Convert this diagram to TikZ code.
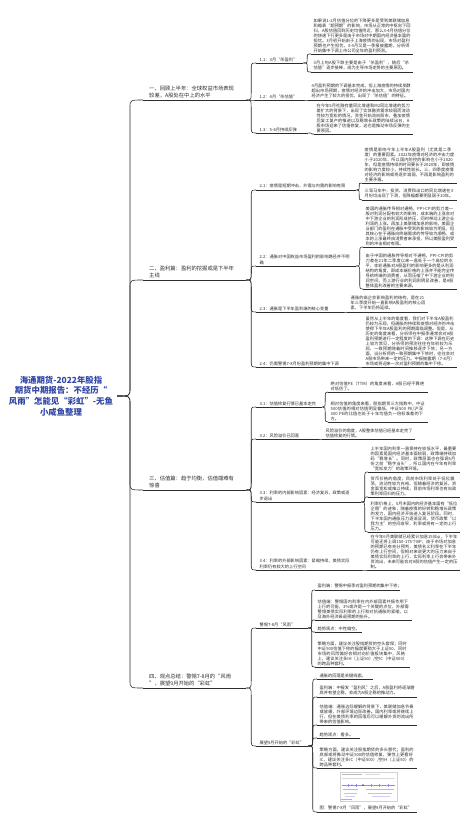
\documentclass[tikz,border=0pt]{standalone}
\usepackage{fontspec}
\setmainfont{Noto Sans CJK SC}
\XeTeXlinebreaklocale "zh"
\XeTeXlinebreakskip = 0pt plus 0.6pt
\usetikzlibrary{calc}
\definecolor{rootblue}{RGB}{50,70,165}
\definecolor{txt}{RGB}{45,45,45}
\definecolor{lnc}{RGB}{45,45,45}
\tikzset{
  x=1pt, y=-1pt,
  conn/.style={draw=lnc, line width=0.6pt},
  rootnode/.style={align=center, text=rootblue, font=\bfseries\fontsize{8.4}{10.6}\selectfont, inner sep=0pt},
  sec/.style={anchor=south west, inner xsep=6pt, inner ysep=1.6pt, align=left, text=txt, font=\fontsize{5.3}{7}\selectfont},
  sub/.style={anchor=south west, inner xsep=3.5pt, inner ysep=1.4pt, align=left, text=txt, font=\fontsize{4.2}{5.4}\selectfont},
  leaf/.style={anchor=south west, inner xsep=2.5pt, inner ysep=1.4pt, align=left, text=txt, font=\fontsize{4.2}{5}\selectfont},
}
\newcommand\cn[2]{\draw[conn] let \p1=(#1), \p2=(#2), \n1={0.5*(\x2-\x1)}, \n2={min(abs(\y2-\y1)/2,8)}, \n3={ifthenelse(\y2>\y1,1,-1)} in (\p1) .. controls (\x1+\n1,\y1) .. (\x1+\n1,\y1+\n3*\n2) -- (\x1+\n1,\y2-\n3*\n2) .. controls (\x1+\n1,\y2) .. (\p2);}
\newcommand\ul[1]{\draw[conn] (#1.south west) -- (#1.south east);}
\begin{document}
\begin{tikzpicture}
\useasboundingbox (0,0) rectangle (474,821);
\fill[white] (0,0) rectangle (474,821);

% root
\node[rootnode] (root) at (61,396) {海通期货-2022年股指\\期货中期报告：不经历“\\风雨”怎能见“彩虹”-无鱼\\小咸鱼整理};
\coordinate (r0) at (117,396);

% sections
\node[sec, text width=91pt] (s1) at (143,100) {\mbox{一、回顾上半年：全球权益市场表现}\\\mbox{较差，A股处在中上的水平}};
\node[sec, text width=91pt] (s2) at (143,280) {\mbox{二、盈利篇：盈利的挖掘或是下半年}\\\mbox{主线}};
\node[sec, text width=91pt] (s3) at (143,490) {\mbox{三、估值篇：趋于均衡，估值端难有}\\\mbox{惊喜}};
\node[sec, text width=91pt] (s4) at (143,688) {\mbox{四、观点总结：警惕7-8月的“风雨}\\\mbox{”，展望9月开始的“彩虹”}};

% level 2
\node[sub, text width=40pt] (n11) at (256,63) {\mbox{1.1：3月“杀盈利”}};
\node[sub, text width=40pt] (n12) at (256,100) {\mbox{1.2：4月“杀估值”}};
\node[sub, text width=45pt] (n13) at (256,133) {\mbox{1.3：5-6月持续反弹}};
\node[sub, text width=93pt] (n21) at (256,190) {\mbox{2.1：疫情是短期冲击，外需与内需的影响有限}};
\node[sub, text width=93pt] (n22) at (256,266) {\mbox{2.2：通胀对中国权益市场盈利的影响路径并不明}\\\mbox{确}};
\node[sub, text width=80pt] (n23) at (256,312) {\mbox{2.3：通胀是下半年盈利端的核心变量}};
\node[sub, text width=93pt] (n24) at (256,367) {\mbox{2.4：仍需警惕7-8月份盈利预期的集中下调}};
\node[sub, text width=59pt] (n31) at (256,407) {\mbox{3.1：估值修复行情已基本走完}};
\node[sub, text width=55pt] (n32) at (256,439) {\mbox{3.2：风险溢价已回落}};
\node[sub, text width=98pt] (n33) at (256,502) {\mbox{3.3：利率的内部影响因素：经济复苏，政策或逐}\\\mbox{步退出}};
\node[sub, text width=98pt] (n34) at (256,570) {\mbox{3.4：利率的外部影响因素：紧缩持续，美债实际}\\\mbox{利率仍有较大的上行空间}};
\node[sub, text width=45pt] (n41) at (256,628) {\mbox{警惕7-8月“风雨”}};
\node[sub, text width=45pt] (n42) at (256,746) {\mbox{展望9月开始的“彩虹”}};

% leaves of 1
\node[leaf, text width=97pt] (n11a) at (311,54) {如果说1-2月估值分位的下降更多是受到美联储加息和缩表“超预期”的影响，市场从正常的中枢向下回归，A股估值回到历史均值附近，那么3-4月估值分位的快速下行更多是由于市场对中期国内经济基本面的担忧。3月初开始由于上海疫情的出现，市场对盈利预期也产生担忧，3-4月又是一季报披露期，分析师开始集中下调上市公司全年的盈利预测。};
\node[leaf, text width=97pt] (n11b) at (311,72) {3月上旬A股下跌主要是由于“杀盈利”，随后“杀估值”逐步接棒，成为主导市场走势的主要原因。};
\node[leaf, text width=99pt] (n12a) at (309,100) {4月盈利预期的下调基本完成，但上海疫情的持续发酵超出市场预期，疫情对经济的冲击加大，市场对国内经济产生了较大的担忧，出现了“杀估值”的特征。};
\node[leaf, text width=94pt] (n13a) at (314,134) {在今年5月社融存量同比增速和M2同比增速的剪刀差扩大的背景下，出现了实体融资需求较弱而流动性较为宽松的情况，资金开始流向股市，叠加疫情后复工复产的推进以及稳增长政策的陆续出台，A股市场迎来了估值修复，这也是推动市场反弹的主要原因。};

% leaves of 2
\node[leaf, text width=90pt] (n21a) at (362,183) {疫情是影响今年上半年A股盈利（尤其是二季度）的重要因素。2022年疫情对经济的冲击力度小于2020年，所以国内防控的影响也小于2020年，但是疫情持续的时间要长于2020年，即疫情的影响力度较小，持续性较长。三、四季度疫情对经济的影响或将逐步减弱，不再是影响盈利的主要矛盾。};
\node[leaf, text width=90pt] (n21b) at (362,200) {三驾马车中，投资、消费和出口的同比增速在3月份均出现了下滑，但降幅都要明显弱于20年。};
\node[leaf, text width=89pt] (n22a) at (363,247) {美国的通胀传导相对通畅，PPI-CPI的剪刀差一般对利润分配有较大的影响，成本端的上涨会对中下游企业的利润形成挤压，同时带动上游企业利润的上涨。再加上美联储加息的影响，美国企业部门的盈利在通胀中受到的影响较为明显，但其核心在于通胀向终端需求的传导较为顺畅，成本的上涨最终由消费者来承担，所以美股盈利受到的冲击相对有限。};
\node[leaf, text width=89pt] (n22b) at (363,289) {由于中国的通胀传导相对不通畅，PPI-CPI的剪刀差在21年二季度以来一直处于一个高位的水平，本轮通胀对A股盈利的影响更多的是从利润结构的角度，即成本端价格的上涨并不能完全传导给终端的消费者，从而压缩了中下游企业的利润空间，而上游行业的利润则明显改善，是A股整体盈利改善的主要来源。};
\node[leaf, text width=75pt] (n23a) at (348,312) {通胀的高企会影响盈利的结构，是在21年三季度开始一直影响A股盈利的核心因素，下半年仍将延续。};
\node[leaf, text width=89pt] (n24a) at (363,367) {虽然从上半年的角度看，我们对下半年A股盈利仍较为乐观，但通胀的持续和疫情对经济的冲击使得下半年A股盈利的预期面临调整。但是，从历史的角度来看，分析师在中报季通常会对A股盈利预期进行一定程度的下调：这种下调在历史上较为常见，分析师的预测往往在年初较为乐观，一致预期随着时间推移逐步下修；另一方面，当分析师的一致预期集中下修时，往往会对A股市场带来一定的压力。中报披露期（7-8月）市场或将迎来一次对盈利预期的集中下修。};

% leaves of 3
\node[leaf, text width=95pt] (n31a) at (328,392) {绝对估值PE（TTM）的角度来看，A股已经不算绝对低估了。};
\node[leaf, text width=95pt] (n31b) at (328,422) {相对估值的角度来看，股指期货三大指数中，中证500估值的相对估值明显偏低，中证500 PE/沪深300 PE的比值也处于十年均值负一倍标准差的下方。};
\node[leaf, text width=87pt] (n32a) at (323,439) {风险溢价的角度，A股整体估值已经基本走完了估值修复的行情。};
\node[leaf, text width=87pt] (n33a) at (368,472) {上半年国内利率一直保持在较低水平，最重要的因素是国内经济基本面较弱，政策端持续加码“稳增长”。同时，政策层面也在强调5月份之前“稳字当头”，所以国内在今年有利率“宽松发力”的政策环境。};
\node[leaf, text width=87pt] (n33b) at (368,497) {货币价格的角度，目前市场利率处于低位震荡，流动性较为充裕，但随着经济的复苏，资金面宽松或难以持续，目前市场利率也有向政策利率回归的压力。};
\node[leaf, text width=87pt] (n33c) at (368,532) {利率价格上，5月末国内的经济基本面有“低位企稳”的迹象，随着疫情的好转和稳增长政策的发力，国内经济开始进入复苏阶段。同时，下半年国内通胀压力逐渐显现，货币政策“以我为主”的空间收窄，利率或将有一定的上行压力。};
\node[leaf, text width=87pt] (n34a) at (368,570) {在今年6月美联储已经累计加息150bp，下半年可能还将上调150-175个BP，由于市场对加息的预期已有充分预判，美债名义利率在下半年仍有上行空间，但相对来说更大的压力来自于美债实际利率的上行，实际利率上行会带来外资流出，未来可能会对A股的估值产生一定的压制。};

% leaves of 4
\node[leaf, text width=80pt] (n41a) at (315,590) {\mbox{盈利端：警惕中报季对盈利预期的集中下修；}};
\node[leaf, text width=92pt] (n41b) at (315,620) {估值端：警惕国内利率在内外部因素共振作用下上行的可能，3\%或许是一个关键的点位，外部需警惕美债实际利率的上行和对抗通胀的紧缩，以及海外经济衰退预期的抬升。};
\node[leaf, text width=42pt] (n41c) at (315,632) {\mbox{趋势观点：中性偏空。}};
\node[leaf, text width=90pt] (n41d) at (315,667) {策略方面，建议关注股指期货的空头套保；同时中证500估值下修的幅度要稍大于上证50，同时市场的风险偏好会相对向价值板块集中，风格上，建议关注多IH（上证50）/空IC（中证500）的跨品种套利。};
\node[leaf, text width=51pt] (n42a) at (317,679) {\mbox{通胀的回落是关键线索。}};
\node[leaf, text width=95pt] (n42b) at (317,697) {盈利端：中报发“盈利风”之后，A股盈利将逐渐磨底并有望企稳，会成为A股企稳的推动力。};
\node[leaf, text width=95pt] (n42c) at (317,725) {估值端：通胀边际缓解的背景下，美联储加息节奏或放缓，外部环境边际改善。国内利率或将继续上行，但在美债利率的回落后可以缓解外资的流出所带来的估值影响。};
\node[leaf, text width=38pt] (n42d) at (317,738) {\mbox{趋势观点：看多。}};
\node[leaf, text width=95pt] (n42e) at (317,768) {策略方面，建议关注股指期货的多头替代；盈利的底部或将推动中证500的估值修复，弹性上更看好IC，建议关注多IC（中证500）/空IH（上证50）的跨品种套利。};
\node[leaf, text width=95pt] (n42f) at (317,812) {\mbox{图：警惕7-8月“风雨”，展望9月开始的“彩虹”}};

% small picture above caption
\draw[gray!35, line width=0.3pt] (340,772) rectangle (397,801);
\fill[gray!55] (342,774) rectangle (362,775);
\fill[gray!30] (365,774) rectangle (380,775);
\fill[gray!30] (342,777.5) rectangle (395,778.2);
\draw[blue!45, line width=0.4pt] (342,785) -- (395,785);
\foreach \xx in {348,356,371,379,388} {\draw[blue!45, line width=0.3pt] (\xx,783.5) -- (\xx,786.5);}
\fill[violet!80] (363,785) circle (1);
\fill[blue!60] (352,785) circle (0.6);
\fill[blue!30] (343,788.5) rectangle (358,789.3);
\fill[blue!30] (366,788.5) rectangle (394,789.3);
\fill[blue!25] (344,792.5) rectangle (357,793.2);
\fill[blue!25] (368,792.5) rectangle (392,793.2);
\fill[blue!20] (345,795.5) rectangle (355,796.2);
\fill[blue!20] (372,795.5) rectangle (390,796.2);
\fill[gray!60] (341,799) rectangle (352,800);

% underlines
\foreach \n in {s1,s2,s3,s4,n11,n12,n13,n21,n22,n23,n24,n31,n32,n33,n34,n41,n42,
  n11a,n11b,n12a,n13a,n21a,n21b,n22a,n22b,n23a,n24a,n31a,n31b,n32a,n33a,n33b,n33c,n34a,
  n41a,n41b,n41c,n41d,n42a,n42b,n42c,n42d,n42e,n42f} {\ul{\n}}

% connectors
\cn{r0}{s1.south west}
\cn{r0}{s2.south west}
\cn{r0}{s3.south west}
\cn{r0}{s4.south west}
\cn{s1.south east}{n11.south west}
\cn{s1.south east}{n12.south west}
\cn{s1.south east}{n13.south west}
\cn{s2.south east}{n21.south west}
\cn{s2.south east}{n22.south west}
\cn{s2.south east}{n23.south west}
\cn{s2.south east}{n24.south west}
\cn{s3.south east}{n31.south west}
\cn{s3.south east}{n32.south west}
\cn{s3.south east}{n33.south west}
\cn{s3.south east}{n34.south west}
\cn{s4.south east}{n41.south west}
\cn{s4.south east}{n42.south west}
\cn{n11.south east}{n11a.south west}
\cn{n11.south east}{n11b.south west}
\cn{n12.south east}{n12a.south west}
\cn{n13.south east}{n13a.south west}
\cn{n21.south east}{n21a.south west}
\cn{n21.south east}{n21b.south west}
\cn{n22.south east}{n22a.south west}
\cn{n22.south east}{n22b.south west}
\cn{n23.south east}{n23a.south west}
\cn{n24.south east}{n24a.south west}
\cn{n31.south east}{n31a.south west}
\cn{n31.south east}{n31b.south west}
\cn{n32.south east}{n32a.south west}
\cn{n33.south east}{n33a.south west}
\cn{n33.south east}{n33b.south west}
\cn{n33.south east}{n33c.south west}
\cn{n34.south east}{n34a.south west}
\cn{n41.south east}{n41a.south west}
\cn{n41.south east}{n41b.south west}
\cn{n41.south east}{n41c.south west}
\cn{n41.south east}{n41d.south west}
\cn{n42.south east}{n42a.south west}
\cn{n42.south east}{n42b.south west}
\cn{n42.south east}{n42c.south west}
\cn{n42.south east}{n42d.south west}
\cn{n42.south east}{n42e.south west}
\cn{n42.south east}{n42f.south west}
\end{tikzpicture}
\end{document}
